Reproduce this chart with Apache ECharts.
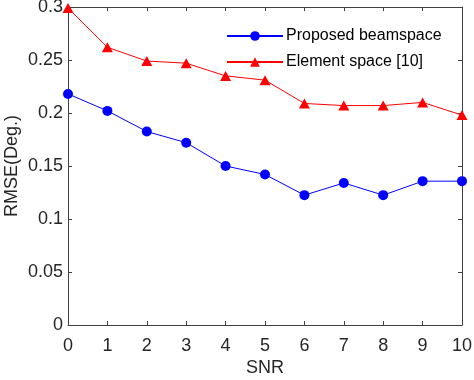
<!DOCTYPE html>
<html><head><meta charset="utf-8">
<script src="https://cdn.jsdelivr.net/npm/echarts@6/dist/echarts.min.js"></script>
<style>html,body{margin:0;padding:0;background:#fff}#c{width:474px;height:380px}</style>
</head><body><div id="c"></div>
<script>
const snr = [0,1,2,3,4,5,6,7,8,9,10];
const proposed = [0.218,0.202,0.1825,0.172,0.150,0.142,0.1225,0.134,0.1225,0.1357,0.1357];
const element = [0.299,0.262,0.249,0.247,0.235,0.231,0.209,0.207,0.207,0.210,0.198];
const yTicks = [0,0.05,0.1,0.15,0.2,0.25,0.3];
const names = ['Proposed beamspace','Element space [10]'];

const axisCol = '#404040';
const font = 'Arial, "Liberation Sans", sans-serif';
const chart = echarts.init(document.getElementById('c'));
const xBase = {type:'value',min:0,max:10,interval:1,
  axisLine:{show:true,onZero:false,lineStyle:{color:axisCol,width:1}},
  axisTick:{show:true,inside:true,length:4,lineStyle:{color:axisCol}},
  splitLine:{show:false}};
const yBase = {type:'value',min:0,max:0.3,interval:0.05,
  axisLine:{show:true,onZero:false,lineStyle:{color:axisCol,width:1}},
  axisTick:{show:true,inside:true,length:4,lineStyle:{color:axisCol}},
  splitLine:{show:false}};
chart.setOption({
  animation:false,
  grid:{left:68,right:12,top:7,bottom:55,containLabel:false,outerBoundsMode:'none'},
  legend:{left:221,top:23,orient:'vertical',itemWidth:56,itemHeight:12,itemGap:10,
    textStyle:{fontFamily:font,fontSize:16,color:'#000',padding:[0,0,0,-2]},
    data:names},
  xAxis:[
    Object.assign({},xBase,{position:'bottom',name:'SNR',nameLocation:'middle',nameGap:34,
      nameMoveOverlap:false,
      nameTextStyle:{fontFamily:font,fontSize:18,color:'#262626'},
      axisLabel:{fontFamily:font,fontSize:18,color:'#262626',margin:12,formatter:v=>String(v)}}),
    Object.assign({},xBase,{position:'top',axisLabel:{show:false}})
  ],
  yAxis:[
    Object.assign({},yBase,{position:'left',name:'RMSE(Deg.)',nameLocation:'middle',nameGap:47,
      nameMoveOverlap:false,
      nameTextStyle:{fontFamily:font,fontSize:18,color:'#262626'},
      axisLabel:{fontFamily:font,fontSize:18,color:'#262626',margin:5,
        formatter:v=>{const t=yTicks.find(k=>Math.abs(k-v)<1e-9);return t===undefined?'':String(+t.toFixed(2));}}}),
    Object.assign({},yBase,{position:'right',axisLabel:{show:false}})
  ],
  series:[
    {name:names[0],type:'line',data:snr.map((x,i)=>[x,proposed[i]]),
      symbol:'circle',symbolSize:10,color:'#0000ff',
      lineStyle:{color:'#0000ff',width:1},itemStyle:{color:'#0000ff'}},
    {name:names[1],type:'line',data:snr.map((x,i)=>[x,element[i]]),
      symbol:'triangle',symbolSize:[11,10],color:'#ff0000',
      lineStyle:{color:'#ff0000',width:1},itemStyle:{color:'#ff0000'}}
  ]
});
</script></body></html>
